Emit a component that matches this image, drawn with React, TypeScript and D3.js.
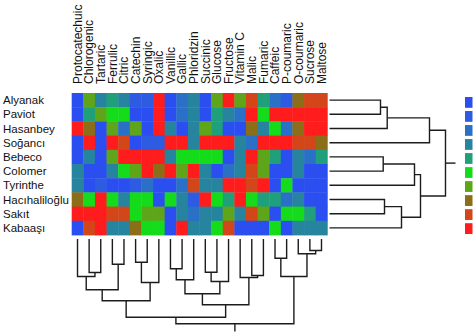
import React from "react";
import * as d3 from "d3";

const rowNames = ["Alyanak", "Paviot", "Hasanbey", "Soğancı", "Bebeco", "Colomer", "Tyrinthe", "Hacıhaliloğlu", "Sakıt", "Kabaaşı"];
const colNames = ["Protocatechuic", "Chlorogenic", "Tartaric", "Ferrulic", "Citric", "Catechin", "Syringic", "Oxalic", "Vanillic", "Gallic", "Phloridzin", "Succinic", "Glucose", "Fructose", "Vitamin C", "Malic", "Fumaric", "Caffeic", "P-coumaric", "O-coumaric", "Sucrose", "Maltose"];

// colour level (0 = lowest/blue ... 9 = highest/red) of each cell, row by row
const cellLevels: number[][] = [
  [0, 6, 3, 4, 3, 1, 1, 9, 0, 2, 3, 0, 6, 9, 6, 8, 4, 2, 1, 7, 8, 8],
  [0, 4, 6, 5, 5, 0, 0, 9, 0, 2, 3, 0, 4, 3, 2, 9, 5, 9, 9, 9, 9, 9],
  [9, 7, 0, 6, 2, 6, 0, 9, 3, 0, 3, 6, 4, 0, 0, 7, 3, 5, 2, 7, 9, 9],
  [0, 9, 0, 9, 8, 0, 1, 1, 9, 9, 3, 9, 9, 9, 3, 2, 9, 9, 9, 8, 8, 7],
  [0, 3, 0, 6, 9, 9, 9, 9, 3, 5, 5, 5, 5, 0, 3, 9, 6, 4, 0, 3, 2, 4],
  [3, 0, 0, 3, 5, 6, 9, 7, 9, 6, 9, 3, 0, 2, 3, 8, 6, 0, 0, 3, 0, 0],
  [3, 0, 1, 0, 0, 1, 2, 0, 0, 2, 8, 3, 3, 9, 9, 8, 9, 0, 5, 0, 0, 0],
  [7, 5, 9, 5, 3, 5, 5, 0, 5, 3, 1, 9, 5, 4, 9, 5, 4, 4, 2, 3, 0, 0],
  [9, 9, 9, 8, 8, 5, 6, 6, 0, 3, 2, 3, 3, 6, 3, 8, 6, 0, 5, 5, 4, 0],
  [0, 8, 9, 3, 3, 7, 5, 5, 0, 9, 3, 3, 5, 8, 0, 0, 0, 5, 0, 3, 3, 3],
];

const legendColors = ["#2b4ef0", "#2d5be2", "#2a70c6", "#26849f", "#1fa07a", "#14dc1a", "#5fa51a", "#8d6e18", "#d2461a", "#fe1c1c"];

// linkage: [left, right, height]; indices >= n refer to earlier merges
const colMerges: [number, number, number][] = [
  [1, 2, 31], [0, 22, 35], [3, 4, 22.7], [23, 24, 48.3], [5, 6, 20.7], [26, 7, 41],
  [25, 27, 59.3], [8, 9, 27.3], [29, 10, 38.3], [11, 12, 30.7], [31, 13, 40], [30, 32, 52.3],
  [15, 16, 34], [14, 34, 36], [33, 35, 63.3], [28, 36, 75.7], [17, 18, 16.7], [20, 21, 9],
  [19, 39, 12.3], [38, 40, 35], [37, 41, 82.3],
];
const rowMerges: [number, number, number][] = [
  [0, 1, 51], [10, 2, 57.7], [11, 3, 100], [4, 5, 53.7], [13, 6, 85],
  [7, 8, 55], [15, 9, 72], [14, 16, 91], [12, 17, 116],
];

const W = 474, H = 335;
const hm = { x0: 71.7, x1: 327.3, y0: 93, y1: 235 };

function dendroSegments(
  n: number,
  merges: [number, number, number][],
  leafPos: (i: number) => number,
  hScale: (h: number) => number,
  leafStart: number,
  stub: number
) {
  const pos: number[] = [];
  const hp: number[] = [];
  for (let i = 0; i < n; i++) { pos[i] = leafPos(i); hp[i] = leafStart; }
  const paths: { a: number; b: number; pa: number; pb: number; h: number }[] = [];
  merges.forEach(([a, b, h], k) => {
    const idx = n + k;
    const y = hScale(h);
    paths.push({ a: hp[a], b: hp[b], pa: pos[a], pb: pos[b], h: y });
    pos[idx] = (pos[a] + pos[b]) / 2;
    hp[idx] = y;
  });
  const last = n + merges.length - 1;
  const rootH = merges[merges.length - 1][2];
  return { paths, root: { p: pos[last], h0: hp[last], h1: hScale(rootH + stub) } };
}

export default function App() {
  const x = d3.scaleBand<number>().domain(d3.range(colNames.length)).range([hm.x0, hm.x1]);
  const y = d3.scaleBand<number>().domain(d3.range(rowNames.length)).range([hm.y0, hm.y1]);
  const color = d3.scaleOrdinal<number, string>().domain(d3.range(10)).range(legendColors);

  const colH = d3.scaleLinear().domain([0, 90]).range([241.5, 331.5]);
  const rowH = d3.scaleLinear().domain([0, 126]).range([329.5, 455.5]);

  const colD = dendroSegments(colNames.length, colMerges, (i) => x(i)! + x.bandwidth() / 2, colH, 239, 7.7);
  const rowD = dendroSegments(rowNames.length, rowMerges, (i) => y(i)! + y.bandwidth() / 2, rowH, 329.5, 10);

  const legY = d3.scaleBand<number>().domain(d3.range(10)).range([97, 234]).paddingInner(0.23);

  const font = "'Liberation Sans', Arial, sans-serif";
  const stroke = "#1c1c1c";
  const sw = 1.4;

  return (
    <svg width={W} height={H} style={{ position: "absolute", left: 0, top: 0, background: "#fff" }}>
      {cellLevels.map((row, r) =>
        row.map((v, c) => (
          <rect key={`${r}-${c}`} x={x(c)} y={y(r)} width={x.bandwidth() + 0.4} height={y.bandwidth() + 0.4} fill={color(v)} />
        ))
      )}
      {rowNames.map((name, r) => (
        <text key={name} x={3} y={y(r)! + y.bandwidth() / 2} dy="0.36em" fontFamily={font} fontSize={11.5} fill="#111">
          {name}
        </text>
      ))}
      {colNames.map((name, c) => (
        <text
          key={name}
          transform={`translate(${x(c)! + x.bandwidth() / 2},84) rotate(-90)`}
          dy="0.36em"
          textAnchor="start"
          fontFamily={font}
          fontSize={12}
          fill="#111"
        >
          {name}
        </text>
      ))}
      <g fill="none" stroke={stroke} strokeWidth={sw}>
        {colD.paths.map((p, i) => (
          <path key={i} d={`M${p.pa},${p.a}V${p.h}H${p.pb}V${p.b}`} />
        ))}
        <line x1={colD.root.p} x2={colD.root.p} y1={colD.root.h0} y2={colD.root.h1} />
        {rowD.paths.map((p, i) => (
          <path key={i} d={`M${p.a},${p.pa}H${p.h}V${p.pb}H${p.b}`} />
        ))}
        <line y1={rowD.root.p} y2={rowD.root.p} x1={rowD.root.h0} x2={rowD.root.h1} />
      </g>
      {legendColors.map((c, i) => (
        <rect key={c} x={465} y={legY(i)} width={7.5} height={legY.bandwidth()} fill={c} />
      ))}
    </svg>
  );
}
